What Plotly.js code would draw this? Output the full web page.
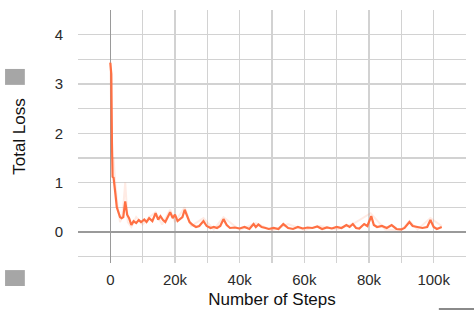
<!DOCTYPE html>
<html>
<head>
<meta charset="utf-8">
<script src="https://cdn.plot.ly/plotly-3.0.1.min.js"></script>
<style>html,body{margin:0;padding:0;background:#fff;}#chart{width:474px;height:310px;}</style>
</head>
<body>
<div id="chart"></div>
<script>
// Smoothed total loss (step in thousands)
const stepsK = [0,0.3,0.5,0.7,1.0,1.3,1.6,2.0,2.5,3.0,3.5,4.0,4.6,5.2,5.8,6.5,7.2,8.0,8.8,9.5,10.5,11.2,12.0,13.0,14.0,14.8,15.5,16.3,17.0,17.8,18.5,19.3,20.0,20.8,21.5,22.3,23.0,23.8,24.5,25.5,26.5,27.5,28.8,29.8,31,32,33,34,35,36,37,38.5,40,41.5,43,44.3,45,45.8,46.8,48,49,50.5,52,53.5,55,56.5,58,59.5,61,62.5,64,65.5,67,68.5,70,71.5,73,74,75,76,77,78.5,79.5,80.7,81.5,82.5,84,85.5,87,88.5,90,91,92.5,93.5,95,96.5,98,99,100,101,102.5];
const loss = [3.43,3.2,1.8,1.12,1.1,0.85,0.75,0.5,0.38,0.3,0.28,0.3,0.62,0.35,0.28,0.14,0.22,0.18,0.24,0.2,0.25,0.2,0.28,0.22,0.38,0.25,0.32,0.24,0.2,0.3,0.4,0.28,0.35,0.22,0.26,0.3,0.45,0.3,0.2,0.14,0.1,0.12,0.22,0.12,0.08,0.1,0.08,0.12,0.26,0.14,0.08,0.09,0.07,0.1,0.06,0.16,0.1,0.15,0.1,0.08,0.06,0.08,0.06,0.16,0.08,0.06,0.1,0.07,0.09,0.08,0.11,0.06,0.09,0.07,0.1,0.08,0.14,0.1,0.16,0.08,0.07,0.16,0.12,0.32,0.14,0.1,0.12,0.08,0.14,0.06,0.05,0.08,0.2,0.12,0.1,0.08,0.1,0.24,0.1,0.06,0.1];
// Faint raw loss
const rawStepsK = [0,0.5,1.0,1.5,2.2,3.0,3.8,4.6,5.4,6.5,8,10,12,14,16,18.5,20,23,25,28.8,32,35,40,45,50,55,60,65,70,75,80.5,85,90,92.5,95,99,102.5];
const rawLoss = [3.45,1.5,1.5,1.0,0.55,0.2,0.35,1.0,0.2,0.1,0.3,0.15,0.3,0.4,0.15,0.45,0.2,0.5,0.12,0.28,0.05,0.3,0.04,0.18,0.03,0.16,0.04,0.12,0.05,0.16,0.38,0.05,0.03,0.22,0.05,0.28,0.12];

const xTickVals = [0,20000,40000,60000,80000,100000];
const xTickText = ['0','20k','40k','60k','80k','100k'];
const yTickVals = [0,1,2,3,4];

const toSteps = a => a.map(v => v*1000);

const traces = [
  {x: toSteps(rawStepsK), y: rawLoss, type:'scatter', mode:'lines',
   line:{color:'rgba(255,112,67,0.14)', width:2}, hoverinfo:'skip', showlegend:false},
  {x: toSteps(stepsK), y: loss, type:'scatter', mode:'lines',
   line:{color:'#ff7043', width:2.2}, showlegend:false}
];

const grid = '#d2d2d2';
const layout = {
  width:474, height:310,
  margin:{l:78, r:8, t:10, b:47},
  paper_bgcolor:'#fff', plot_bgcolor:'#fff',
  font:{family:'Liberation Sans, Arial, sans-serif', color:'#333', size:15},
  showlegend:false,
  xaxis:{
    range:[-10000,110000], tickvals:xTickVals, ticktext:xTickText,
    showgrid:true, gridcolor:grid, gridwidth:1.3,
    minor:{dtick:10000, tick0:0, showgrid:true, gridcolor:grid, gridwidth:1.3},
    zeroline:true, zerolinecolor:'#9a9a9a', zerolinewidth:1.6,
    showline:false, ticks:'', ticklabelstandoff:6,
    tickfont:{size:15, color:'#2a2a2a'},
    title:{text:'Number of Steps', font:{size:17, color:'#111'}, standoff:6}
  },
  yaxis:{
    range:[-0.63,4.5], tickvals:yTickVals,
    showgrid:true, gridcolor:grid, gridwidth:1.3,
    minor:{dtick:0.5, tick0:0, showgrid:true, gridcolor:grid, gridwidth:1.3},
    zeroline:true, zerolinecolor:'#9a9a9a', zerolinewidth:1.6,
    showline:false, ticks:'', ticklabelstandoff:14,
    tickfont:{size:15, color:'#2a2a2a'},
    title:{text:'Total Loss', font:{size:17, color:'#111'}, standoff:24}
  },
  shapes:[
    {type:'rect', xref:'paper', yref:'paper', x0:-0.188, x1:-0.137, y0:0.704, y1:0.767, fillcolor:'#a6a6a6', line:{width:0}},
    {type:'rect', xref:'paper', yref:'paper', x0:-0.188, x1:-0.137, y0:-0.091, y1:-0.028, fillcolor:'#a6a6a6', line:{width:0}},
    {type:'rect', xref:'paper', yref:'paper', x0:0.93, x1:1.03, y0:-0.19, y1:-0.178, fillcolor:'#8a8a8a', line:{width:0}}
  ]
};
Plotly.newPlot('chart', traces, layout, {displayModeBar:false, staticPlot:true});
</script>
</body>
</html>
